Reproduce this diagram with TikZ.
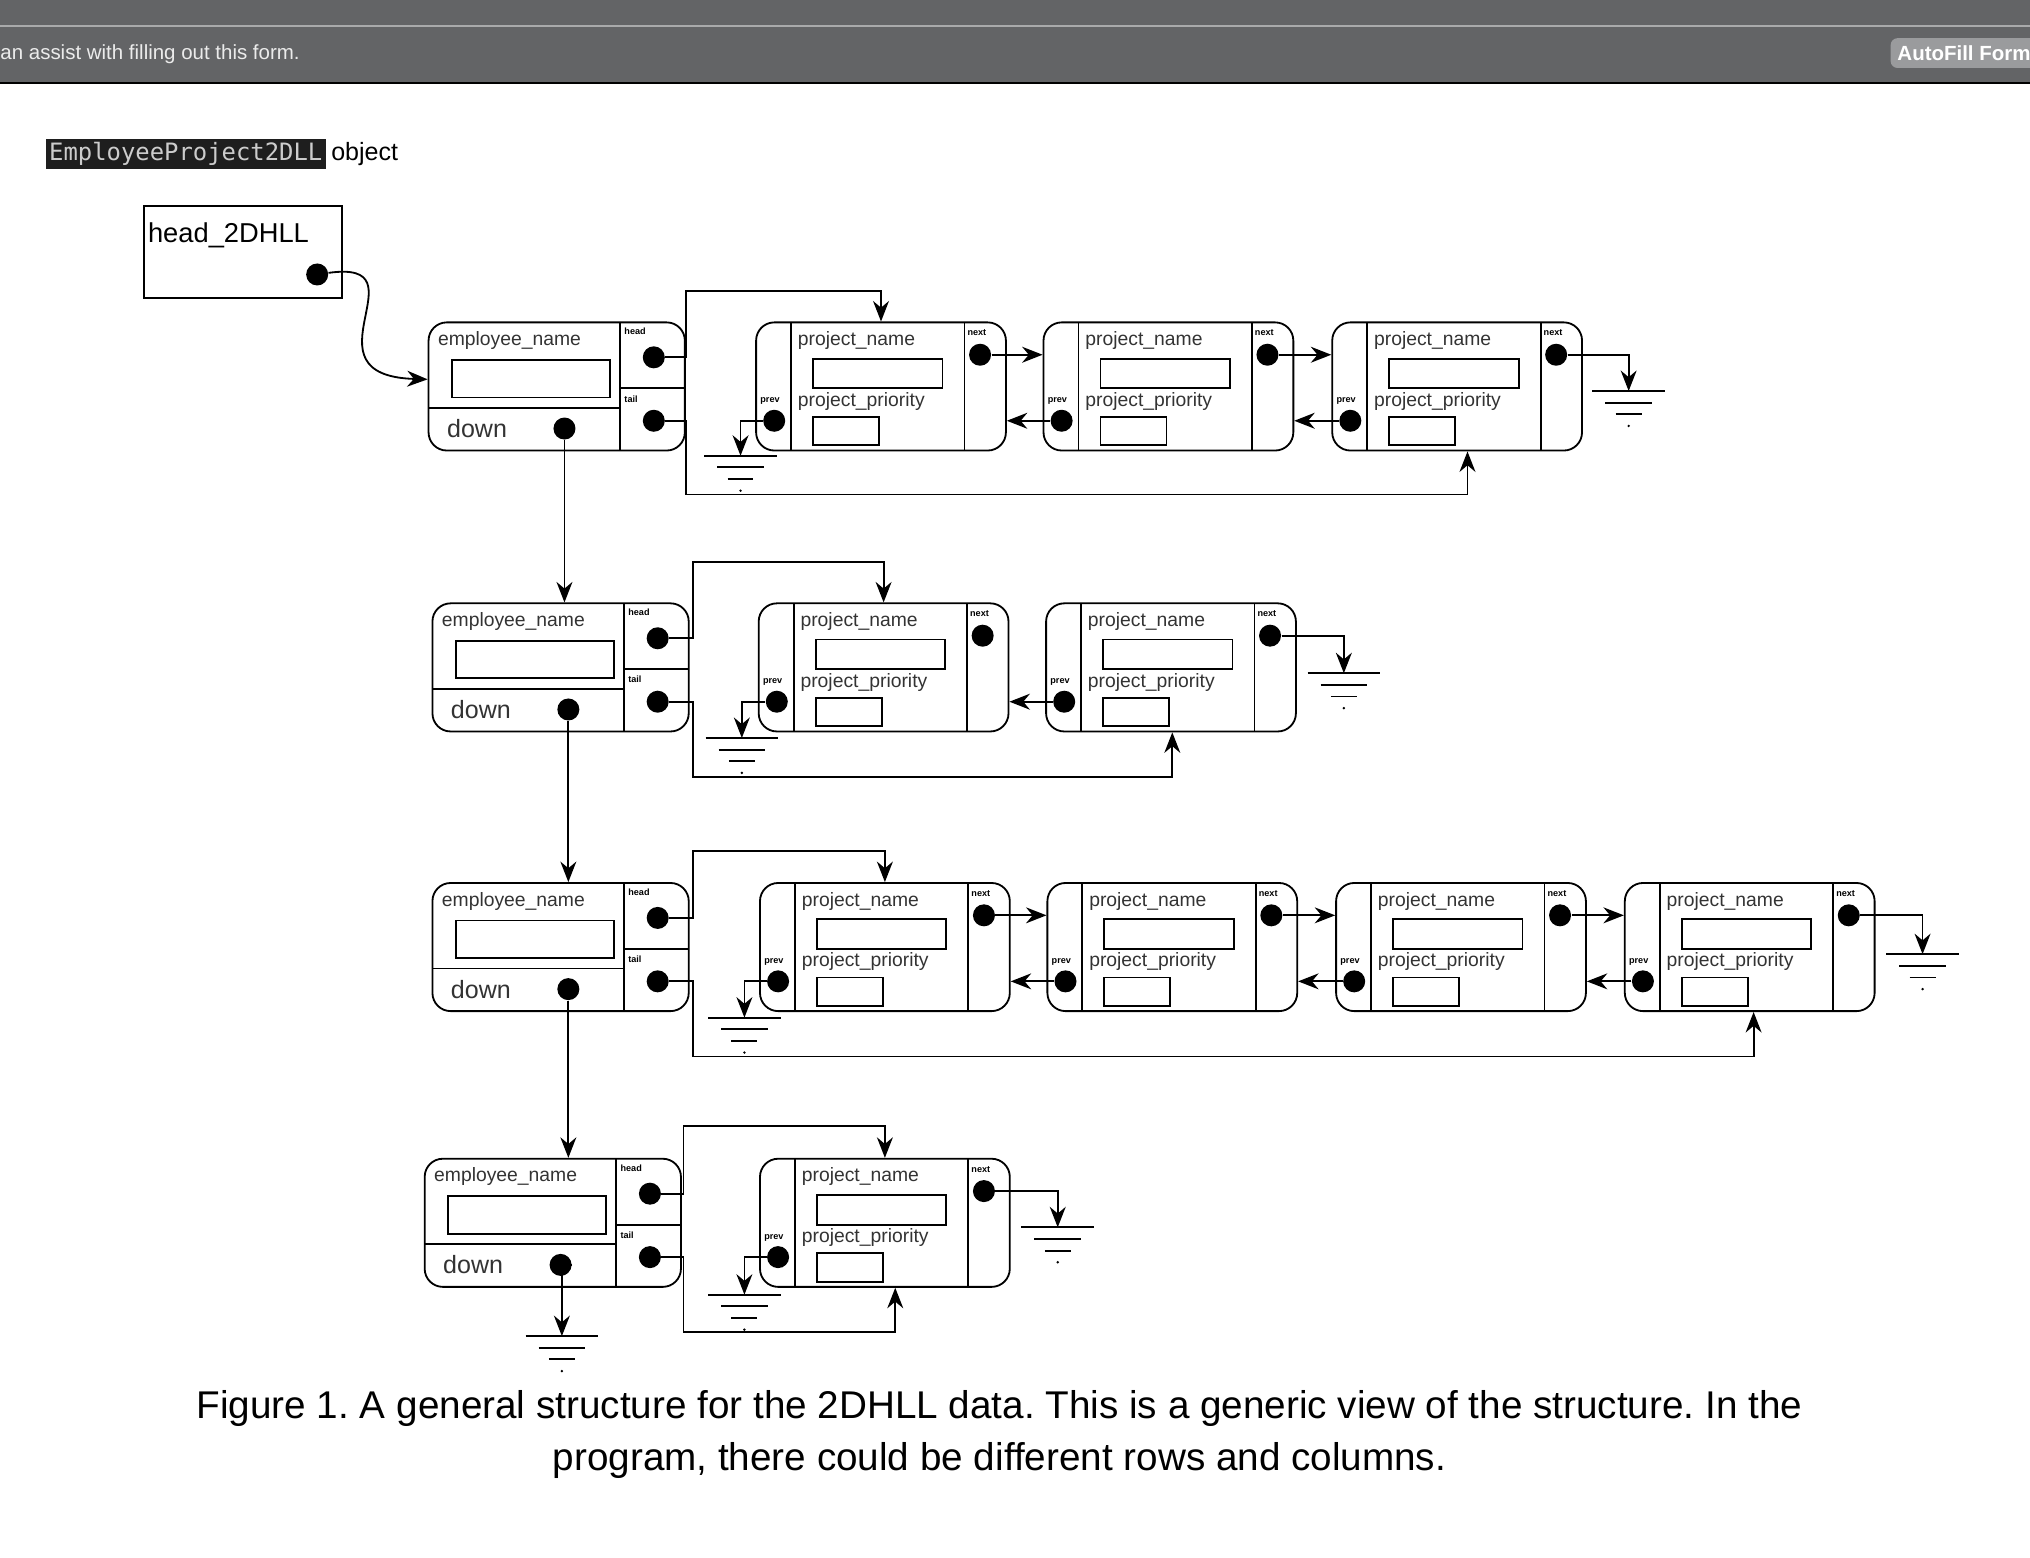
\documentclass[tikz,border=0pt]{standalone}
\usepackage{fontspec}
\setmainfont{Liberation Sans}
\newfontfamily\codefont{DejaVu Sans Mono}
\usetikzlibrary{arrows.meta,positioning}
\definecolor{bargray}{HTML}{636466}
\definecolor{btngray}{HTML}{9A9B9D}
\definecolor{codebg}{HTML}{1E1E1E}
\frenchspacing

\tikzset{
  arr/.style={-{Stealth[length=9pt,width=7pt]},line width=0.8pt},
  box/.style={draw,line width=0.8pt,inner sep=0},
  rbox/.style={box,rounded corners=8pt,minimum width=#1},
  dot/.style={circle,fill=black,inner sep=0,minimum size=0.34cm},
  lbl/.style={anchor=west,inner sep=0,font=\fontsize{8.5}{10}\selectfont,text=black!80},
  tiny/.style={anchor=west,inner sep=0,font=\fontsize{4}{5}\selectfont\bfseries}
}

% employee node: name, top-left x, top-left y
\newcommand{\empnode}[3]{
  \begin{scope}[shift={(#2,#3)}]
    \node[rbox=3.96cm,minimum height=1.98cm] (#1) at (99,49.5) {};
    \draw[line width=0.8pt] (148,0) -- (148,99) (0,66) -- (148,66) (148,51) -- (198,51);
    \draw[line width=0.8pt] (18,29) rectangle (140,58);
    \node[lbl] at (7,14) {employee\_name};
    \node[lbl,font=\fontsize{11}{12}\selectfont] at (14,82) {down};
    \node[dot] (#1d) at (105,82) {};
    \node[tiny] at (151,7) {head};
    \node[dot] (#1h) at (174,27) {};
    \node[tiny] at (151,59) {tail};
    \node[dot] (#1t) at (174,76) {};
  \end{scope}}

% project node: name, top-left x, top-left y
\newcommand{\projnode}[3]{
  \begin{scope}[shift={(#2,#3)}]
    \node[rbox=3.86cm,minimum height=1.98cm] (#1) at (96.5,49.5) {};
    \draw[line width=0.8pt] (27,0) -- (27,99) (161,0) -- (161,99);
    \draw[line width=0.8pt] (44,28) rectangle (144,51) (44,73) rectangle (95,95);
    \node[lbl] at (32,14) {project\_name};
    \node[lbl] at (32,61) {project\_priority};
    \node[tiny] at (3,61) {prev};
    \node[dot] (#1p) at (14,76) {};
    \node[tiny] at (163,8) {next};
    \node[dot] (#1n) at (173,25) {};
  \end{scope}}

% ground: name, x, y of top bar
\newcommand{\gnd}[3]{
  \coordinate (#1) at (#2,#3);
  \draw[line width=0.8pt] (#2-28,#3) -- (#2+28,#3) (#2-18,#3+9) -- (#2+18,#3+9) (#2-10,#3+18) -- (#2+10,#3+18);
  \fill (#2,#3+27) circle (0.6pt);}

\begin{document}
\begin{tikzpicture}[x=0.02cm,y=-0.02cm]
  \useasboundingbox (0,0) rectangle (1568,1203.4);

  % browser bar
  \fill[bargray] (0,0) rectangle (1568,64);
  \draw[white!45!bargray,line width=1pt] (0,20) -- (1568,20);
  \draw[black,line width=1pt] (0,64) -- (1568,64);
  \node[anchor=west,inner sep=0,text=white!92!black,font=\fontsize{9}{10}\selectfont] (bartxt) at (0,42) {an assist with filling out this form.};
  \node[anchor=west,fill=btngray,rounded corners=3pt,text=white,inner sep=3pt,minimum height=0.46cm,font=\fontsize{9}{10}\selectfont\bfseries] (autofill) at (1460,41) {AutoFill Form};

  % title
  \node[anchor=west,fill=codebg,text=white!80!black,inner sep=1.5pt,font=\codefont\fontsize{10.5}{11}\selectfont] (cls) at (35,119) {EmployeeProject2DLL};
  \node[right=2pt of cls,inner sep=0,font=\fontsize{11}{12}\selectfont] (objtxt) {object};

  % head pointer
  \draw[line width=0.8pt] (111,159) rectangle (264,230);
  \node[anchor=west,inner sep=0,font=\fontsize{12}{13}\selectfont] (hdtxt) at (114,182) {head\_2DHLL};
  \node[dot] (hd) at (245,212) {};

  % rows
  \empnode{e1}{331}{249}
  \projnode{p11}{584}{249}
  \projnode{p12}{806}{249}
  \projnode{p13}{1029}{249}
  \empnode{e2}{334}{466}
  \projnode{p21}{586}{466}
  \projnode{p22}{808}{466}
  \empnode{e3}{334}{682}
  \projnode{p31}{587}{682}
  \projnode{p32}{809}{682}
  \projnode{p33}{1032}{682}
  \projnode{p34}{1255}{682}
  \empnode{e4}{328}{895}
  \projnode{p41}{587}{895}

  \gnd{g11}{572}{352} \gnd{g13}{1258}{302}
  \gnd{g21}{573}{570} \gnd{g22}{1038}{520}
  \gnd{g31}{575}{786} \gnd{g34}{1485}{737}
  \gnd{g41}{575}{1000} \gnd{g42}{817}{948}
  \gnd{g4d}{434}{1032}

  \draw[arr] (hd) .. controls (330,200) and (230,290) .. (e1.west |- 0,293);

  % head and tail links
  \foreach \e/\f/\l/\x/\lo/\hi/\s in {e1/p11/p13/530/225/382/0.16, e2/p21/p22/535/434/600/0.02, e3/p31/p34/535/657/816/0.06, e4/p41/p41/528/870/1029/0.16}{
    \draw[arr] (\e h) -| (\x,\lo) -| (\f.north);
    \draw[arr] (\e t) -| (\x,\hi) -| ([xshift=\s cm]\l.south);
  }

  % next and prev links
  \foreach \a/\b in {p11/p12, p12/p13, p31/p32, p32/p33, p33/p34}
    \draw[arr] (\a n) -- (\b.west |- \a n);
  \foreach \a/\b in {p12/p11, p13/p12, p22/p21, p32/p31, p33/p32, p34/p33}
    \draw[arr] (\a p) -- (\b.east |- \a p);

  % ends to ground
  \foreach \d/\g in {p11p/g11, p21p/g21, p31p/g31, p41p/g41, p13n/g13, p22n/g22, p34n/g34, p41n/g42, e4d/g4d}
    \draw[arr] (\d) -| (\g);

  % down links
  \foreach \a/\b in {e1/e2, e2/e3, e3/e4}
    \draw[arr] (\a d) -- (\a d |- \b.north);

  % caption
  \node[align=center,font=\fontsize{17}{23}\selectfont] (cap) at (772,1108) {Figure 1. A general structure for the 2DHLL data. This is a generic view of the structure. In the\\program, there could be different rows and columns.};
\end{tikzpicture}
\end{document}
